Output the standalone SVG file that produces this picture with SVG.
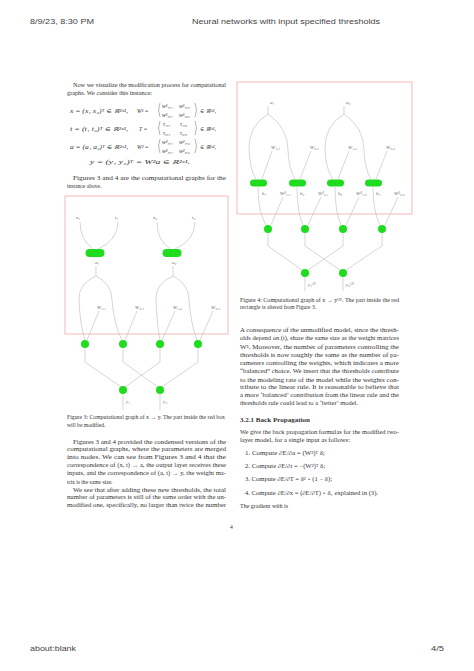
<svg xmlns="http://www.w3.org/2000/svg" width="474" height="671" viewBox="0 0 474 671">
<style>
.hd{font-family:"Liberation Sans","DejaVu Sans",sans-serif;font-size:6.5px;fill:#444}
.t{font-family:"Liberation Serif","DejaVu Serif",serif;font-size:5.6px;fill:#333}
.m{font-family:"Liberation Serif","DejaVu Serif",serif;font-size:5.6px;font-style:italic;fill:#333}
.lb{font-family:"Liberation Serif","DejaVu Serif",serif;font-size:5px;font-style:italic;fill:#666}
.b{font-family:"Liberation Serif","DejaVu Serif",serif;font-size:6px;font-weight:bold;fill:#333}
.e{fill:none;stroke:#c4c4c4;stroke-width:0.7}
.br{fill:none;stroke:#444;stroke-width:0.4}
.box{fill:none;stroke:#f4a7a7;stroke-width:0.8}
.g{fill:#1fdc1f}
</style>
<rect width="474" height="671" fill="#fff"/>
<!-- header/footer -->
<text class="hd" x="30" y="24" textLength="64" lengthAdjust="spacingAndGlyphs">8/9/23, 8:30 PM</text>
<text class="hd" x="192" y="24" textLength="188" lengthAdjust="spacingAndGlyphs">Neural networks with input specified thresholds</text>
<text class="hd" x="30" y="651" textLength="46" lengthAdjust="spacingAndGlyphs">about:blank</text>
<text class="hd" x="431" y="651" textLength="13" lengthAdjust="spacingAndGlyphs">4/5</text>
<text class="t" x="230" y="529">4</text>

<!-- left column text -->
<text class="t" x="73" y="87" textLength="153" lengthAdjust="spacingAndGlyphs">Now we visualize the modification process for computational</text>
<text class="t" x="67" y="95" textLength="85" lengthAdjust="spacingAndGlyphs">graphs. We consider this instance:</text>

<g id="equations">
<text class="m" x="70" y="113" textLength="58" lengthAdjust="spacingAndGlyphs">x = (x₁   x₂)ᵀ ∈ ℝ²ˣ¹,</text>
<text class="m" x="137" y="113">W¹ =</text>
<path class="br" d="M160,103 Q157,110 160,117 M195,103 Q198,110 195,117"/>
<text class="m" x="162" y="108">w¹₁,₁</text><text class="m" x="162" y="117">w¹₂,₁</text>
<text class="m" x="179" y="108">w¹₁,₂</text><text class="m" x="179" y="117">w¹₂,₂</text>
<text class="m" x="200" y="113">∈ ℝ²ˣ²,</text>

<text class="m" x="70" y="131" textLength="58" lengthAdjust="spacingAndGlyphs">t = (t₁   t₂)ᵀ ∈ ℝ²ˣ¹,</text>
<text class="m" x="139" y="131">T =</text>
<path class="br" d="M160,121 Q157,128 160,135 M195,121 Q198,128 195,135"/>
<text class="m" x="163" y="126">τ₁,₁</text><text class="m" x="163" y="135">τ₂,₁</text>
<text class="m" x="180" y="126">τ₁,₂</text><text class="m" x="180" y="135">τ₂,₂</text>
<text class="m" x="200" y="131">∈ ℝ²ˣ²,</text>

<text class="m" x="70" y="149" textLength="58" lengthAdjust="spacingAndGlyphs">a = (a₁   a₂)ᵀ ∈ ℝ²ˣ¹,</text>
<text class="m" x="137" y="149">W² =</text>
<path class="br" d="M160,139 Q157,146 160,153 M195,139 Q198,146 195,153"/>
<text class="m" x="162" y="144">w²₁,₁</text><text class="m" x="162" y="153">w²₂,₁</text>
<text class="m" x="179" y="144">w²₁,₂</text><text class="m" x="179" y="153">w²₂,₂</text>
<text class="m" x="200" y="149">∈ ℝ²ˣ²,</text>

<text class="m" x="90" y="164" textLength="100" lengthAdjust="spacingAndGlyphs">y = (y₁   y₂)ᵀ = W²a ∈ ℝ²ˣ¹.</text>
</g>

<text class="t" x="73" y="180" textLength="153" lengthAdjust="spacingAndGlyphs">Figures 3 and 4 are the computational graphs for the</text>
<text class="t" x="67" y="188">instance above.</text>

<!-- Figure 3 -->
<rect class="box" x="65" y="196" width="163" height="138"/>
<g id="fig3-edges">
<path class="e" d="M80,222 Q80,240 93,249 M118,222 Q118,240 98,249"/>
<path class="e" d="M157,222 Q157,240 170,249 M195,222 Q195,240 175,249"/>
<path class="e" d="M96,266 V276 Q78,284 79,300 Q80,325 85,340 M96,276 Q112,284 112,300 Q114,325 122,340"/>
<path class="e" d="M173,266 V276 Q155,284 156,300 Q157,325 160,340 M173,276 Q189,284 189,300 Q191,325 197,340"/>
<path class="e" d="M99,311 L87,340 M137,311 L125,340 M175,311 L162,340 M213,311 L200,340"/>
<path class="e" d="M85,348 V362 L121,387 M123,348 V362 L158,387 M160,348 V362 L125,387 M198,348 V362 L162,387"/>
<path class="e" d="M123,394 V410 M160,394 V410"/>
</g>
<g id="fig3-in"><text class="lb" x="76" y="219">x₁</text><text class="lb" x="115" y="219">t₁</text><text class="lb" x="153" y="219">x₂</text><text class="lb" x="192" y="219">t₂</text></g>
<g id="fig3-h1"><rect class="g" x="85.5" y="249" width="19" height="8" rx="4"/><text class="lb" x="95" y="264">a₁</text></g>
<g id="fig3-h2"><rect class="g" x="162.5" y="249" width="19" height="8" rx="4"/><text class="lb" x="172" y="264">a₂</text></g>
<g id="fig3-w"><text class="lb" x="97" y="309">W₁,₁</text><text class="lb" x="135" y="309">W₂,₁</text><text class="lb" x="173" y="309">W₁,₂</text><text class="lb" x="211" y="309">W₂,₂</text></g>
<g id="fig3-s1"><circle class="g" cx="85" cy="344" r="4"/></g>
<g id="fig3-s2"><circle class="g" cx="123" cy="344" r="4"/></g>
<g id="fig3-s3"><circle class="g" cx="160" cy="344" r="4"/></g>
<g id="fig3-s4"><circle class="g" cx="198" cy="344" r="4"/></g>
<g id="fig3-y1"><circle class="g" cx="123" cy="390" r="4"/><text class="lb" x="126" y="403">y₁</text></g>
<g id="fig3-y2"><circle class="g" cx="160" cy="390" r="4"/><text class="lb" x="163" y="403">y₂</text></g>

<text class="t" x="67" y="419" textLength="158" lengthAdjust="spacingAndGlyphs">Figure 3: Computational graph of x → y. The part inside the red box</text>
<text class="t" x="67" y="427">will be modified.</text>

<text class="t" x="73" y="444" textLength="153" lengthAdjust="spacingAndGlyphs">Figures 3 and 4 provided the condensed versions of the</text>
<text class="t" x="67" y="451" textLength="159" lengthAdjust="spacingAndGlyphs">computational graphs, where the parameters are merged</text>
<text class="t" x="67" y="459" textLength="159" lengthAdjust="spacingAndGlyphs">into nodes. We can see from Figures 3 and 4 that the</text>
<text class="t" x="67" y="467" textLength="159" lengthAdjust="spacingAndGlyphs">correspondence of (x, t) → a, the output layer receives these</text>
<text class="t" x="67" y="475" textLength="159" lengthAdjust="spacingAndGlyphs">inputs, and the correspondence of (a, t) → y, the weight ma-</text>
<text class="t" x="67" y="484">trix is the same size.</text>
<text class="t" x="73" y="492" textLength="153" lengthAdjust="spacingAndGlyphs">We see that after adding these new thresholds, the total</text>
<text class="t" x="67" y="499" textLength="159" lengthAdjust="spacingAndGlyphs">number of parameters is still of the same order with the un-</text>
<text class="t" x="67" y="507" textLength="159" lengthAdjust="spacingAndGlyphs">modified one, specifically, no larger than twice the number</text>

<!-- Figure 4 -->
<rect class="box" x="237" y="82" width="175" height="132"/>
<g id="fig4-edges">
<path class="e" d="M268,106 V114 Q248,126 249,150 Q250,170 256,179 M268,114 Q288,128 288,150 Q289,170 295,179"/>
<path class="e" d="M344,106 V114 Q324,126 325,150 Q326,170 333,179 M344,114 Q364,128 364,150 Q365,170 371,179"/>
<path class="e" d="M272,151 L262,179 M311,151 L300,179 M349,151 L338,179 M387,151 L376,179"/>
<path class="e" d="M258,187 Q258,212 266,225 M297,187 Q297,212 303,225 M335,187 Q335,212 341,225 M373,187 Q373,212 380,225"/>
<path class="e" d="M283,197 L271,225 M321,197 L308,225 M359,197 L346,225 M398,197 L385,225"/>
<path class="e" d="M268,233 V246 L302,270 M305,233 V246 L340,270 M343,233 V246 L308,270 M382,233 V246 L346,270"/>
<path class="e" d="M305,277 V291 M343,277 V291"/>
</g>
<g id="fig4-in"><text class="lb" x="270" y="104">a₁</text><text class="lb" x="346" y="104">a₂</text></g>
<g id="fig4-w1"><text class="lb" x="271" y="149">W₁,₁</text><text class="lb" x="310" y="149">W₂,₁</text><text class="lb" x="348" y="149">W₁,₂</text><text class="lb" x="386" y="149">W₂,₂</text></g>
<g id="fig4-h1"><rect class="g" x="250" y="179.5" width="17" height="7" rx="3.5"/><text class="lb" x="262" y="195">b₁</text><text class="lb" x="280" y="195">W²₁,₁</text></g>
<g id="fig4-h2"><rect class="g" x="289" y="179.5" width="17" height="7" rx="3.5"/><text class="lb" x="300" y="195">b₂</text><text class="lb" x="318" y="195">W²₂,₁</text></g>
<g id="fig4-h3"><rect class="g" x="327" y="179.5" width="17" height="7" rx="3.5"/><text class="lb" x="338" y="195">b₃</text><text class="lb" x="356" y="195">W²₁,₂</text></g>
<g id="fig4-h4"><rect class="g" x="365" y="179.5" width="17" height="7" rx="3.5"/><text class="lb" x="376" y="195">b₄</text><text class="lb" x="394" y="195">W²₂,₂</text></g>
<g id="fig4-s1"><circle class="g" cx="268" cy="229" r="4"/></g>
<g id="fig4-s2"><circle class="g" cx="305" cy="229" r="4"/></g>
<g id="fig4-s3"><circle class="g" cx="343" cy="229" r="4"/></g>
<g id="fig4-s4"><circle class="g" cx="382" cy="229" r="4"/></g>
<g id="fig4-y1"><circle class="g" cx="305" cy="273" r="4"/><text class="lb" x="308" y="286">y₁⁽²⁾</text></g>
<g id="fig4-y2"><circle class="g" cx="343" cy="273" r="4"/><text class="lb" x="346" y="286">y₂⁽²⁾</text></g>

<text class="t" x="240" y="302" textLength="159" lengthAdjust="spacingAndGlyphs">Figure 4: Computational graph of x → y⁽²⁾. The part inside the red</text>
<text class="t" x="240" y="309">rectangle is altered from Figure 3.</text>

<text class="t" x="240" y="332" textLength="159" lengthAdjust="spacingAndGlyphs">A consequence of the unmodified model, since the thresh-</text>
<text class="t" x="240" y="340" textLength="159" lengthAdjust="spacingAndGlyphs">olds depend on (t), share the same size as the weight matrices</text>
<text class="t" x="240" y="349" textLength="159" lengthAdjust="spacingAndGlyphs">W¹. Moreover, the number of parameters controlling the</text>
<text class="t" x="240" y="357" textLength="159" lengthAdjust="spacingAndGlyphs">thresholds is now roughly the same as the number of pa-</text>
<text class="t" x="240" y="365" textLength="159" lengthAdjust="spacingAndGlyphs">rameters controlling the weights, which indicates a more</text>
<text class="t" x="240" y="373" textLength="159" lengthAdjust="spacingAndGlyphs">“balanced” choice. We insert that the thresholds contribute</text>
<text class="t" x="240" y="382" textLength="159" lengthAdjust="spacingAndGlyphs">to the modeling rate of the model while the weights con-</text>
<text class="t" x="240" y="389" textLength="159" lengthAdjust="spacingAndGlyphs">tribute to the linear rule. It is reasonable to believe that</text>
<text class="t" x="240" y="397" textLength="159" lengthAdjust="spacingAndGlyphs">a more ‘balanced’ contribution from the linear rule and the</text>
<text class="t" x="240" y="405" textLength="118" lengthAdjust="spacingAndGlyphs">thresholds rule could lead to a ‘better’ model.</text>

<text class="b" x="240" y="422" textLength="70" lengthAdjust="spacingAndGlyphs">3.2.1   Back Propagation</text>
<text class="t" x="240" y="434" textLength="159" lengthAdjust="spacingAndGlyphs">We give the back propagation formulas for the modified two-</text>
<text class="t" x="240" y="442" textLength="110" lengthAdjust="spacingAndGlyphs">layer model, for a single input as follows:</text>
<text class="t" x="245" y="455" textLength="80" lengthAdjust="spacingAndGlyphs">1. Compute ∂E/∂a = (W²)ᵀ δ;</text>
<text class="t" x="245" y="468" textLength="80" lengthAdjust="spacingAndGlyphs">2. Compute ∂E/∂t = −(W²)ᵀ δ;</text>
<text class="t" x="245" y="481" textLength="87" lengthAdjust="spacingAndGlyphs">3. Compute ∂E/∂T = δ² ∘ (1 − δ);</text>
<text class="t" x="245" y="495" textLength="133" lengthAdjust="spacingAndGlyphs">4. Compute ∂E/∂x = (∂E/∂T) ∘ δ₁ explained in (3).</text>
<text class="t" x="240" y="508" textLength="48" lengthAdjust="spacingAndGlyphs">The gradient with is</text>
</svg>
